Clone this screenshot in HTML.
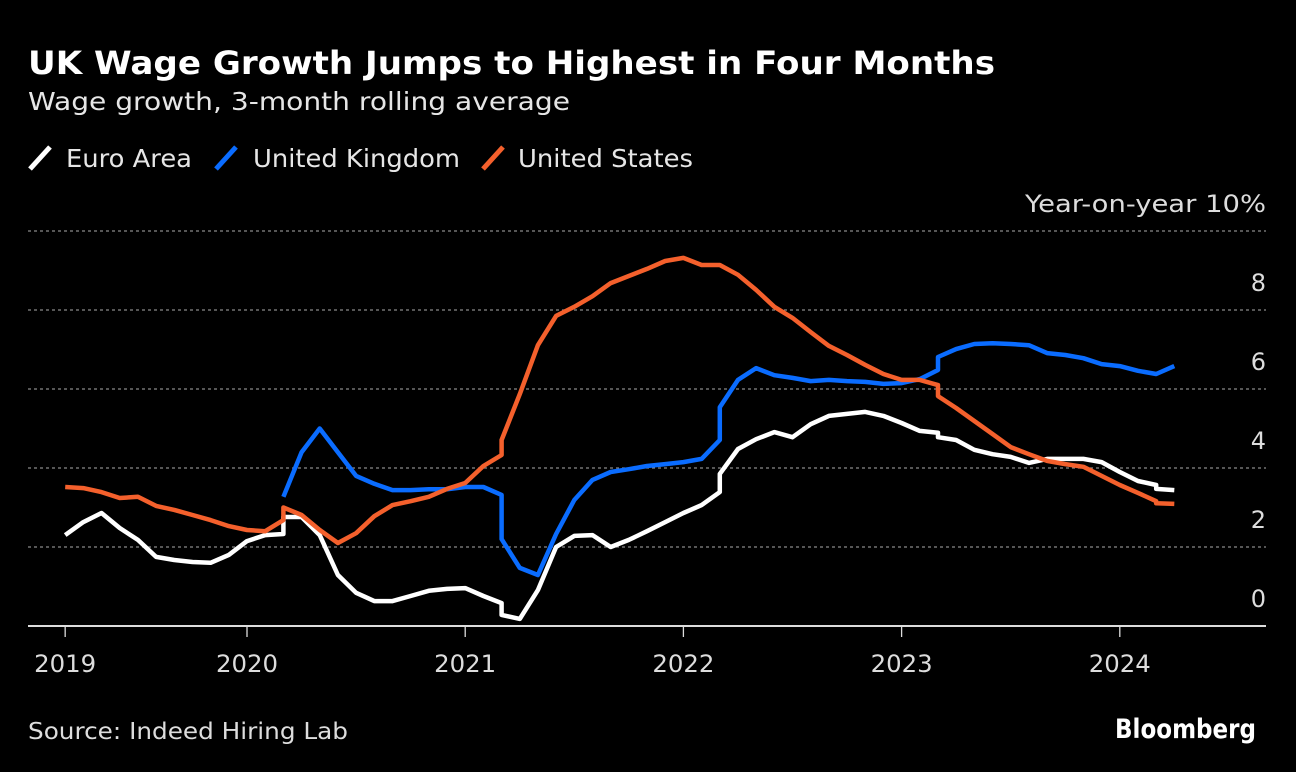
<!DOCTYPE html>
<html><head><meta charset="utf-8"><style>
html,body{margin:0;padding:0;background:#000;}
body{width:1296px;height:772px;overflow:hidden;font-family:"DejaVu Sans","Liberation Sans",sans-serif;color:#fff;position:relative;}
</style></head><body>
<svg id="chart" width="1296" height="772" style="position:absolute;left:0;top:0;" xmlns="http://www.w3.org/2000/svg" font-family="DejaVu Sans, Liberation Sans, sans-serif">
<text x="28" y="74" font-size="32" font-weight="bold" fill="#fff" textLength="967" lengthAdjust="spacingAndGlyphs">UK Wage Growth Jumps to Highest in Four Months</text>
<text x="28" y="110" font-size="25" fill="#e6e6e6" textLength="542" lengthAdjust="spacingAndGlyphs">Wage growth, 3-month rolling average</text>
<text x="28" y="739" font-size="23" fill="#ddd" textLength="320" lengthAdjust="spacingAndGlyphs">Source: Indeed Hiring Lab</text>
<text x="1115" y="738" font-size="27" font-weight="bold" fill="#fff" textLength="141" lengthAdjust="spacingAndGlyphs">Bloomberg</text>
</svg>
<script>
const months = [-10,-9,-8,-7,-6,-5,-4,-3,-2,-1,0,1,2,2,3,4,5,6,7,8,9,10,11,12,13,14,14,15,16,17,18,19,20,21,22,23,24,25,26,26,27,28,29,30,31,32,33,34,35,36,37,38,38,39,40,41,42,43,44,45,46,47,48,49,50,50,51];
const euroArea = [2.3,2.63,2.86,2.48,2.18,1.75,1.67,1.62,1.6,1.8,2.15,2.3,2.33,2.76,2.76,2.3,1.29,0.84,0.63,0.63,0.76,0.89,0.94,0.96,0.76,0.58,0.28,0.18,0.91,2.0,2.28,2.3,2.0,2.18,2.4,2.63,2.86,3.06,3.39,3.85,4.48,4.73,4.91,4.78,5.11,5.32,5.37,5.42,5.32,5.14,4.94,4.89,4.78,4.71,4.46,4.35,4.28,4.13,4.23,4.23,4.23,4.15,3.9,3.67,3.57,3.47,3.44];
const unitedKingdom = [null,null,null,null,null,null,null,null,null,null,null,null,null,3.27,4.4,5.0,4.4,3.8,3.6,3.44,3.44,3.46,3.46,3.52,3.52,3.32,2.2,1.47,1.29,2.33,3.19,3.7,3.9,3.97,4.05,4.1,4.15,4.23,4.71,5.54,6.23,6.53,6.35,6.28,6.2,6.23,6.2,6.18,6.13,6.15,6.25,6.48,6.81,7.01,7.14,7.16,7.14,7.11,6.91,6.86,6.78,6.63,6.58,6.46,6.38,6.38,6.58];
const unitedStates = [3.52,3.49,3.39,3.24,3.27,3.04,2.94,2.81,2.68,2.53,2.43,2.4,2.68,3.0,2.81,2.43,2.1,2.35,2.78,3.06,3.16,3.27,3.47,3.62,4.05,4.33,4.71,5.87,7.11,7.85,8.08,8.35,8.68,8.86,9.04,9.24,9.32,9.14,9.14,9.14,8.89,8.51,8.08,7.8,7.44,7.09,6.86,6.61,6.38,6.23,6.23,6.1,5.82,5.52,5.19,4.86,4.53,4.35,4.18,4.1,4.03,3.8,3.57,3.37,3.16,3.11,3.09];
const yTicks = [0,2,4,6,8,10];
const xTickLabels = ["2019","2020","2021","2022","2023","2024"];
const xTickMonths = [-10,0,12,24,36,48];
const seriesNames = ["Euro Area","United Kingdom","United States"];
const seriesColors = ["#ffffff","#0a6cff","#f4602c"];

const NS="http://www.w3.org/2000/svg";
const svg=document.getElementById('chart');
const xs=m=>247+m*218.2/12;
const ys=v=>626-v*39.5;
function mk(tag,attrs){const e=document.createElementNS(NS,tag);for(const k in attrs)e.setAttribute(k,attrs[k]);svg.appendChild(e);return e;}

yTicks.forEach((v,i)=>{
  if(v>0){const g=mk('line',{x1:28,x2:1266,y1:ys(v),y2:ys(v),stroke:'#8a8a8a','stroke-width':1.3,'stroke-dasharray':'3,3'});
  
  }
  const attrs={x:1266,y:ys(v)-19,'text-anchor':'end',fill:'#ddd','font-size':24};
  if(v===10){attrs.textLength=241;attrs.lengthAdjust='spacingAndGlyphs';}
  const t=mk('text',attrs);
  t.textContent = v===10 ? 'Year-on-year 10%' : String(v);
  
  
});
const ax=mk('line',{x1:28,x2:1266,y1:626,y2:626,stroke:'#ddd','stroke-width':2});


xTickMonths.forEach((m,i)=>{
  const tk=mk('line',{x1:xs(m),x2:xs(m),y1:627,y2:637,stroke:'#ddd','stroke-width':1.3});
  
  
  const t=mk('text',{x:xs(m),y:672,'text-anchor':'middle',fill:'#ddd','font-size':24,textLength:62,lengthAdjust:'spacingAndGlyphs'});
  t.textContent=xTickLabels[i];
  
  
});
[euroArea,unitedKingdom,unitedStates].forEach((arr,si)=>{
  let pts=[];
  arr.forEach((v,i)=>{if(v!==null)pts.push(xs(months[i]).toFixed(1)+','+ys(v).toFixed(1));});
  const p=mk('polyline',{points:pts.join(' '),fill:'none',stroke:seriesColors[si],'stroke-width':4.5,'stroke-linejoin':'round','stroke-linecap':'butt'});
  
  
});
// legend
const lx=[30,216,483];
const tx=[66,253,518];
const tw=[126,207,175];
seriesNames.forEach((n,i)=>{
  const l=mk('line',{x1:lx[i],y1:169,x2:lx[i]+20,y2:147,stroke:seriesColors[i],'stroke-width':5});
  
  
  const t=mk('text',{x:tx[i],y:167,fill:'#e6e6e6','font-size':25,textLength:tw[i],lengthAdjust:'spacingAndGlyphs'});
  t.textContent=n;
  
  
});
</script>
</body></html>
